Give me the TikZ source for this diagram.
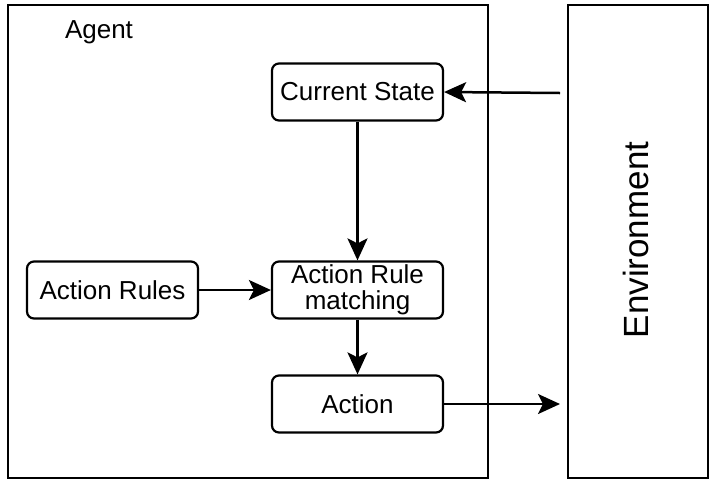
\documentclass[tikz,border=0pt]{standalone}
\usepackage{fontspec}
\setmainfont{Liberation Sans}
\usetikzlibrary{arrows.meta}
\begin{document}
\begin{tikzpicture}[x=1pt,y=-1pt,
  box/.style={draw,line width=2.2pt,rounded corners=7pt,minimum width=171pt,minimum height=57pt,inner sep=0pt,font=\fontsize{26}{26}\selectfont,align=center},
  big/.style={draw,line width=2.2pt},
  arr/.style={line width=2.5pt,-{Stealth[length=22pt,width=20pt,inset=5pt]}}]
\useasboundingbox (0,0) rectangle (714,483);
\node[big,minimum width=480pt,minimum height=473pt,inner sep=0pt] (agent) at (248,241.5) {};
\node[big,minimum width=140pt,minimum height=473pt,inner sep=0pt] (env) at (638,241.5) {};
\node[font=\fontsize{26}{30}\selectfont] (agentlbl) at (99,32) {Agent};
\node[rotate=90,font=\fontsize{35}{40}\selectfont] (envlbl) at (636,240) {Environment};
\node[box] (cs) at (357.5,92) {Current State};
\node[box] (arm) at (357.5,290) {Action Rule\\matching};
\node[box] (ar) at (112.5,290) {Action Rules};
\node[box] (act) at (357.5,404) {Action};
\coordinate (envin) at (560,93);
\coordinate (envout) at (560,404);
\draw[arr] (envin) -- (cs.east);
\draw[arr] (cs) -- (arm);
\draw[arr] (ar) -- (arm);
\draw[arr] (arm) -- (act);
\draw[arr] (act.east) -- (envout);
\end{tikzpicture}
\end{document}
